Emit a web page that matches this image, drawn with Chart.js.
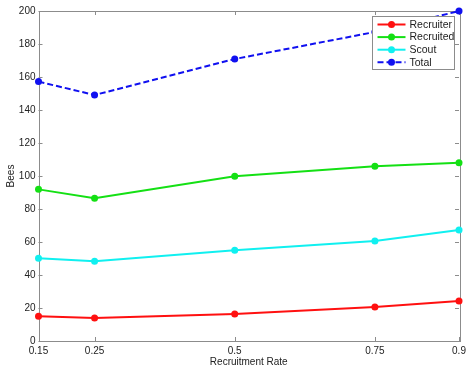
<!DOCTYPE html>
<html lang="en">
<head>
    <meta charset="UTF-8">
    <title>Bees vs Recruitment Rate</title>
    <script src="https://cdn.jsdelivr.net/npm/chart.js"></script>
    <style>
        body { margin: 0; padding: 0; background: #fff; }
        #wrap { width: 474px; height: 370px; }
    </style>
</head>
<body>
    <div id="wrap"><canvas id="beesChart" width="474" height="370"></canvas></div>

    <script>
        // data
        const rates = [0.15, 0.25, 0.5, 0.75, 0.9];
        const recruiter = [15, 13.9, 16.4, 20.6, 24.2];
        const recruited = [91.9, 86.5, 99.8, 105.9, 108.1];
        const scout = [50.1, 48.3, 55, 60.6, 67.3];
        const total = [157.2, 149.1, 170.9, 187.3, 200];
        const yTicks = [0, 20, 40, 60, 80, 100, 120, 140, 160, 180, 200];

        const frameColor = '#8c8c8c';
        const textColor = '#222';

        function series(label, values, color, dash) {
            return {
                label: label,
                data: rates.map((r, i) => ({ x: r, y: values[i] })),
                borderColor: color,
                backgroundColor: color,
                borderWidth: 2,
                borderDash: dash || [],
                pointRadius: 3.5,
                pointHoverRadius: 3.5,
                pointBorderWidth: 0,
                tension: 0,
                clip: false
            };
        }

        // box frame + inward ticks, matlab style
        const framePlugin = {
            id: 'frame',
            beforeDatasetsDraw(chart) {
                const ctx = chart.ctx;
                const a = chart.chartArea;
                const xs = chart.scales.x, ys = chart.scales.y;
                const len = 4;
                ctx.save();
                ctx.strokeStyle = frameColor;
                ctx.lineWidth = 1;
                ctx.strokeRect(Math.round(a.left) + 0.5, Math.round(a.top) + 0.5,
                    Math.round(a.right - a.left), Math.round(a.bottom - a.top));
                ctx.beginPath();
                rates.forEach(v => {
                    const px = Math.round(xs.getPixelForValue(v)) + 0.5;
                    ctx.moveTo(px, a.bottom); ctx.lineTo(px, a.bottom - len);
                    ctx.moveTo(px, a.top); ctx.lineTo(px, a.top + len);
                });
                yTicks.forEach(v => {
                    const py = Math.round(ys.getPixelForValue(v)) + 0.5;
                    ctx.moveTo(a.left, py); ctx.lineTo(a.left + len, py);
                    ctx.moveTo(a.right, py); ctx.lineTo(a.right - len, py);
                });
                ctx.stroke();
                ctx.restore();
            }
        };

        // legend box inside upper right
        const legendPlugin = {
            id: 'insideLegend',
            afterDraw(chart) {
                const ctx = chart.ctx;
                const a = chart.chartArea;
                const bw = 82, bh = 53;
                const bx = Math.round(a.right - 5 - bw) + 0.5;
                const by = Math.round(a.top + 5) + 0.5;
                ctx.save();
                ctx.fillStyle = '#fff';
                ctx.fillRect(bx, by, bw, bh);
                ctx.strokeStyle = frameColor;
                ctx.lineWidth = 1;
                ctx.strokeRect(bx, by, bw, bh);
                ctx.font = '10.5px "Liberation Sans", Arial, sans-serif';
                ctx.textBaseline = 'middle';
                chart.data.datasets.forEach((ds, i) => {
                    const cy = by + 8 + i * 12.6;
                    ctx.strokeStyle = ds.borderColor;
                    ctx.lineWidth = 2;
                    ctx.setLineDash(ds.borderDash);
                    ctx.beginPath();
                    ctx.moveTo(bx + 5, cy);
                    ctx.lineTo(bx + 33, cy);
                    ctx.stroke();
                    ctx.setLineDash([]);
                    ctx.fillStyle = ds.backgroundColor;
                    ctx.beginPath();
                    ctx.arc(bx + 19, cy, 3.5, 0, Math.PI * 2);
                    ctx.fill();
                    ctx.fillStyle = textColor;
                    ctx.fillText(ds.label, bx + 37, cy + 0.5);
                });
                ctx.restore();
            }
        };

        Chart.defaults.font.family = '"Liberation Sans", Arial, sans-serif';
        Chart.defaults.font.size = 10;
        Chart.defaults.color = textColor;

        new Chart(document.getElementById('beesChart'), {
            type: 'line',
            data: {
                datasets: [
                    series('Recruiter', recruiter, '#ff1010'),
                    series('Recruited', recruited, '#14e014'),
                    series('Scout', scout, '#10f0f0'),
                    series('Total', total, '#1010f0', [6, 3])
                ]
            },
            options: {
                responsive: false,
                animation: false,
                layout: { padding: { top: 11, right: 15, left: 0, bottom: 0 } },
                plugins: {
                    legend: { display: false },
                    tooltip: { enabled: false }
                },
                scales: {
                    x: {
                        type: 'linear',
                        min: 0.15,
                        max: 0.9,
                        afterBuildTicks: s => { s.ticks = rates.map(v => ({ value: v })); },
                        afterFit: s => { s.height = 29; },
                        grid: { display: false, drawTicks: false, tickLength: 0 },
                        border: { display: false },
                        ticks: { padding: 4.5, autoSkip: false, maxRotation: 0, callback: v => String(v) },
                        title: { display: true, text: 'Recruitment Rate', padding: { top: 0, bottom: 2 } }
                    },
                    y: {
                        min: 0,
                        max: 200,
                        afterBuildTicks: s => { s.ticks = yTicks.map(v => ({ value: v })); },
                        afterFit: s => { s.width = 38.5; },
                        grid: { display: false, drawTicks: false, tickLength: 0 },
                        border: { display: false },
                        ticks: { padding: 3 },
                        title: { display: true, text: 'Bees', padding: { top: 5, bottom: 0 } }
                    }
                }
            },
            plugins: [framePlugin, legendPlugin]
        });
    </script>
</body>
</html>
